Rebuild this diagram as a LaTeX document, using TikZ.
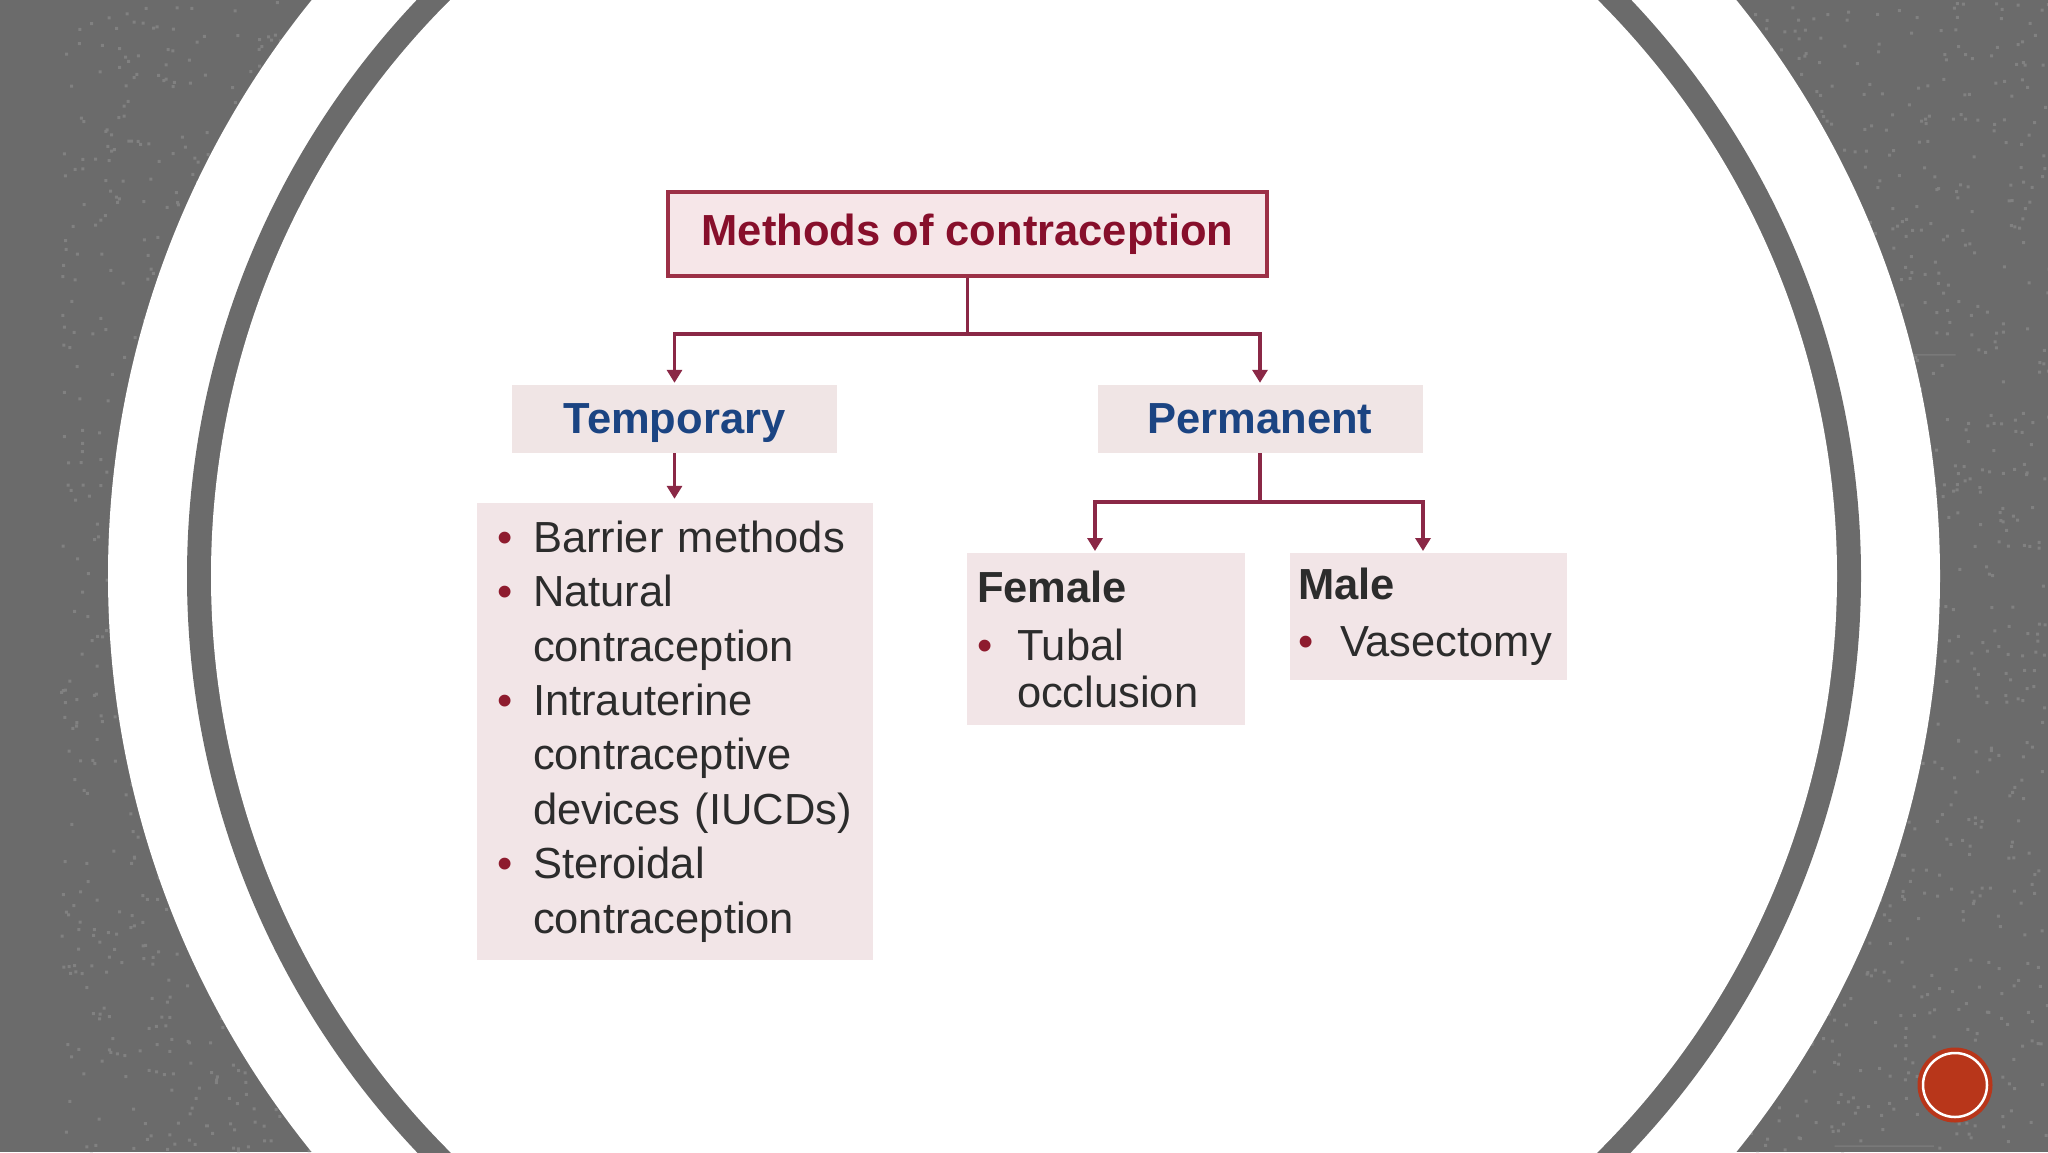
\documentclass[tikz,border=0pt]{standalone}
\usepackage{fontspec}
\setmainfont{Liberation Sans}
\usetikzlibrary{arrows.meta,calc}
\definecolor{bggray}{HTML}{6B6B6B}
\definecolor{speck}{HTML}{B4B4B4}
\definecolor{boxborder}{HTML}{9C3046}
\definecolor{titlefill}{HTML}{F6E6E8}
\definecolor{titletext}{HTML}{870F2B}
\definecolor{subfill}{HTML}{F0E5E5}
\definecolor{listfill}{HTML}{F2E5E7}
\definecolor{bluetext}{HTML}{1B4482}
\definecolor{conncol}{HTML}{8A2846}
\definecolor{bulcol}{HTML}{8E1B2E}
\definecolor{bodytext}{HTML}{2C2C2C}
\definecolor{dotred}{HTML}{B8361A}
\newcommand{\bulbox}[1]{\makebox[#1][l]{\textcolor{bulcol}{\textbullet}}}
\begin{document}
\begin{tikzpicture}[x=1pt,y=-1pt,
  conn/.style={draw=conncol,line width=3.5pt},
  arr/.style={conn,-{Triangle[width=15pt,length=13pt]},shorten >=2pt},
  titlebox/.style={draw=boxborder,line width=3.2pt,fill=titlefill,minimum width=599pt,minimum height=84pt,inner sep=0pt,text=titletext,font=\fontsize{43.5}{52}\selectfont\bfseries},
  subbox/.style={fill=subfill,minimum width=325pt,minimum height=68pt,inner sep=0pt,text=bluetext,text depth=0pt,font=\fontsize{43.5}{52}\selectfont\bfseries},
  listbox/.style={fill=listfill,inner ysep=0pt,align=left,text=bodytext,font=\fontsize{43.5}{54.4}\selectfont},
  catbox/.style={fill=listfill,inner ysep=0pt,align=left,text=bodytext,font=\fontsize{43.5}{47}\selectfont}]
\useasboundingbox (0,0) rectangle (2048,1152);
\begin{scope}
\clip (0,0) rectangle (2048,1152);
\fill[bggray] (0,0) rectangle (2048,1152);
\pgfmathsetseed{12}
\fill[speck,opacity=0.3] \foreach \i in {1,...,6000}{ ({60+rnd*1988},{rnd*1152}) rectangle ++(3,3) };
\fill[speck,opacity=0.2] \foreach \i in {1,...,40}{ ({60+rnd*1900},{rnd*1152}) rectangle ++({20+rnd*80},1.5) };
\fill[white] (1024,576) circle (916pt);
\fill[bggray] (1024,576) circle (837pt);
\fill[white] (1024,576) circle (813pt);
\end{scope}

\node[titlebox] (title) at (967.5,234) {Methods of contraception};
\node[subbox] (temp) at (674.5,419) {Temporary};
\node[subbox] (perm) at (1260,419) {Permanent};

\node[listbox,minimum height=457pt,inner xsep=20pt,text width=356pt] (tlist) at (675,731.5)
 {\bulbox{36pt}Barrier methods\\
  \bulbox{36pt}Natural\\
  \hspace*{36pt}contraception\\
  \bulbox{36pt}Intrauterine\\
  \hspace*{36pt}contraceptive\\
  \hspace*{36pt}devices (IUCDs)\\
  \bulbox{36pt}Steroidal\\
  \hspace*{36pt}contraception};

\node[catbox,minimum height=172pt,inner xsep=10pt,text width=258pt] (female) at (1106,639)
 {\textbf{Female}\\[11pt]
  \bulbox{40pt}Tubal\\
  \hspace*{40pt}occlusion};
\node[catbox,minimum height=127pt,inner xsep=8pt,text width=261pt] (male) at (1428.5,616.5)
 {\textbf{Male}\\[10pt]
  \bulbox{42pt}Vasectomy};

\coordinate (j1) at (967.5,334);
\coordinate (j2) at (1260,502);
\coordinate (ftop) at (1095,553);
\coordinate (mtop) at (1423,553);
\draw[conn] (title.south) -- (j1);
\draw[arr] (j1) -| (temp.north);
\draw[arr] (j1) -| (perm.north);
\draw[arr,shorten >=4pt] (temp.south) -- (temp.south |- tlist.north);
\draw[conn] (perm.south) -- (j2);
\draw[arr] (j2) -| (ftop);
\draw[arr] (j2) -| (mtop);

\fill[dotred] (1955,1085) circle (37.5pt);
\draw[white,line width=2.5pt] (1955,1085) circle (32pt);
\end{tikzpicture}
\end{document}
